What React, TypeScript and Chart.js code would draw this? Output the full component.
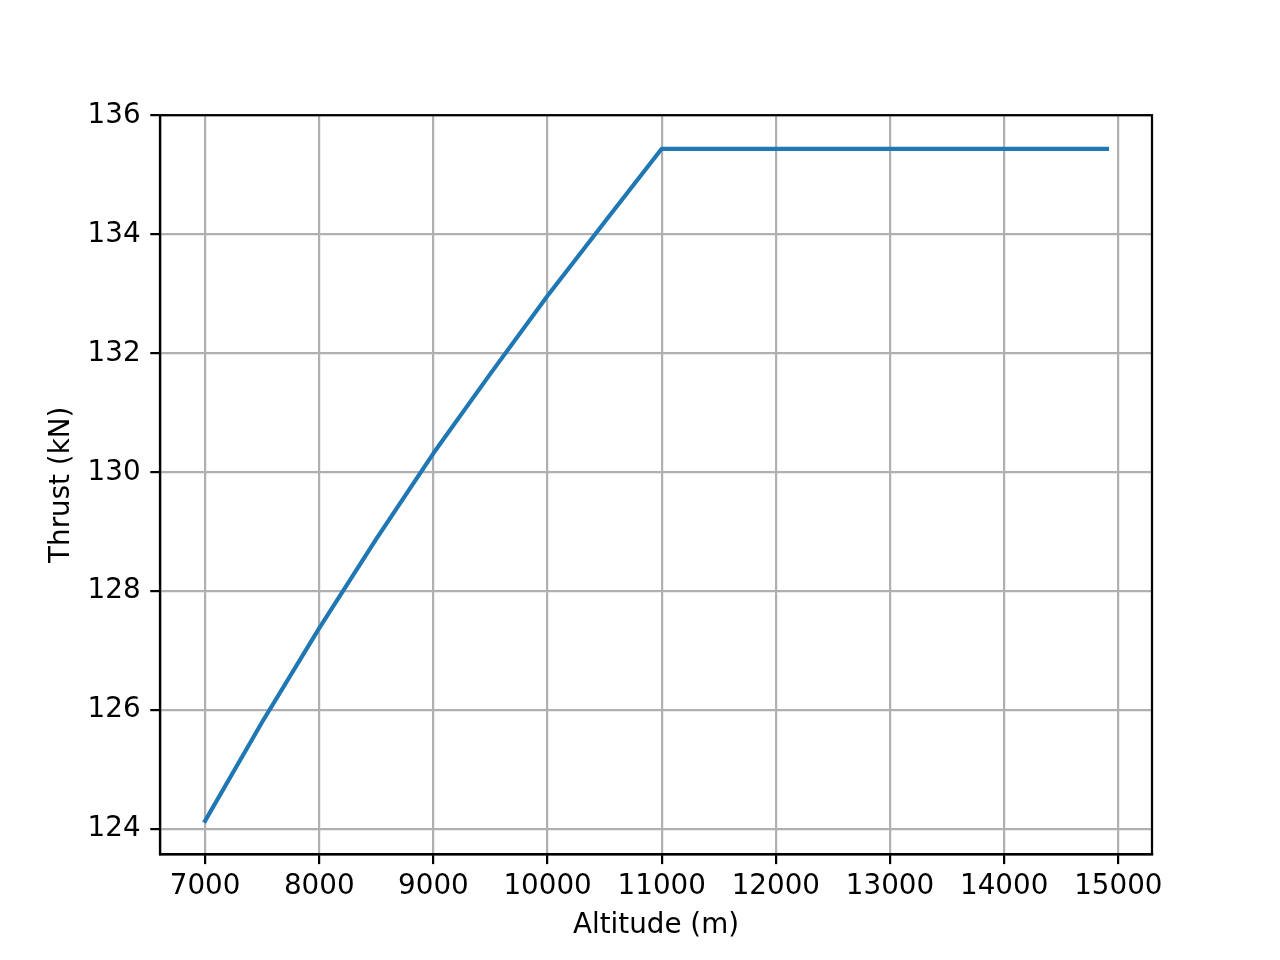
import React, { useEffect, useRef } from "react";
import { Chart, registerables } from "chart.js";

Chart.register(...registerables);

const altitudes = [7000, 7500, 8000, 8500, 9000, 9500, 10000, 10500, 11000, 11500, 12000, 12500, 13000, 13500, 14000, 14500, 14900];
const thrust = [124.14, 125.8, 127.38, 128.88, 130.32, 131.66, 132.97, 134.21, 135.44, 135.44, 135.44, 135.44, 135.44, 135.44, 135.44, 135.44, 135.44];
const xTicks = [7000, 8000, 9000, 10000, 11000, 12000, 13000, 14000, 15000];
const yTicks = [124, 126, 128, 130, 132, 134, 136];
const xLabel = "Altitude (m)";
const yLabel = "Thrust (kN)";

const PT = 200 / 72;
const FONT = "'DejaVu Sans', sans-serif";
const FS = 10 * PT;

function margins(vals: number[]) {
  const lo = Math.min(...vals);
  const hi = Math.max(...vals);
  const m = (hi - lo) * 0.05;
  return [lo - m, hi + m];
}

const framePlugin = {
  id: "frame",
  afterDatasetsDraw(chart: any) {
    const { ctx, chartArea } = chart;
    ctx.save();
    ctx.strokeStyle = "#000";
    ctx.lineWidth = 0.8 * PT;
    ctx.strokeRect(chartArea.left, chartArea.top, chartArea.right - chartArea.left, chartArea.bottom - chartArea.top);
    ctx.restore();
  },
};

export default function App() {
  const ref = useRef<HTMLCanvasElement | null>(null);
  useEffect(() => {
    if (!ref.current) return;
    const [xMin, xMax] = margins(altitudes);
    const [yMin, yMax] = margins(thrust);
    const gridOpts = {
      color: "#b0b0b0",
      lineWidth: 0.8 * PT,
      drawTicks: true,
      tickLength: 3.5 * PT,
      tickColor: "#000",
      tickWidth: 0.8 * PT,
    };
    const chart = new Chart(ref.current, {
      type: "line",
      data: {
        datasets: [
          {
            data: altitudes.map((a, i) => ({ x: a, y: thrust[i] })),
            borderColor: "#1f77b4",
            borderWidth: 1.5 * PT,
            pointRadius: 0,
            tension: 0,
            fill: false,
            borderCapStyle: "square",
            borderJoinStyle: "round",
          } as any,
        ],
      },
      options: {
        animation: false,
        responsive: false,
        maintainAspectRatio: false,
        layout: { padding: { left: 0, top: 115.2, right: 128, bottom: 0 } },
        plugins: { legend: { display: false }, tooltip: { enabled: false } },
        scales: {
          x: {
            type: "linear",
            min: xMin,
            max: xMax,
            afterBuildTicks: (s: any) => {
              s.ticks = xTicks.map((v) => ({ value: v }));
            },
            afterFit: (s: any) => {
              s.height = 960 - 854.4;
            },
            grid: gridOpts,
            border: { display: true, color: "#000", width: 0.8 * PT },
            ticks: {
              color: "#000",
              font: { family: FONT, size: FS },
              padding: 3.5 * PT - 4,
              maxRotation: 0,
              autoSkip: false,
              callback: (v: any) => String(v),
            },
            title: {
              display: true,
              text: xLabel,
              color: "#000",
              font: { family: FONT, size: FS },
              padding: { top: 0, bottom: 18 },
            },
          },
          y: {
            type: "linear",
            min: yMin,
            max: yMax,
            afterBuildTicks: (s: any) => {
              s.ticks = yTicks.map((v) => ({ value: v }));
            },
            afterFit: (s: any) => {
              s.width = 160;
            },
            grid: gridOpts,
            border: { display: true, color: "#000", width: 0.8 * PT },
            ticks: {
              color: "#000",
              font: { family: FONT, size: FS },
              padding: 3.5 * PT,
              autoSkip: false,
              callback: (v: any) => String(v),
            },
            title: {
              display: true,
              text: yLabel,
              color: "#000",
              font: { family: FONT, size: FS },
              padding: { top: 45, bottom: 0 },
            },
          },
        },
      },
      plugins: [framePlugin],
    });
    return () => chart.destroy();
  }, []);
  return (
    <div style={{ position: "absolute", left: 0, top: 0, width: 1280, height: 960, background: "#fff" }}>
      <canvas ref={ref} width={1280} height={960} style={{ width: 1280, height: 960, display: "block" }} />
    </div>
  );
}
